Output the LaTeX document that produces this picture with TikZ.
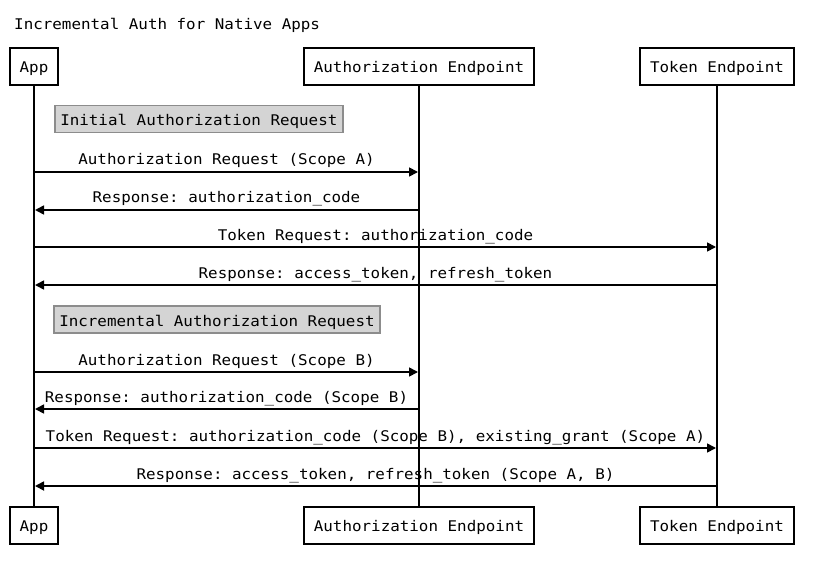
\documentclass[tikz,border=0pt]{standalone}
\usepackage{fontspec}
\usetikzlibrary{arrows.meta}
\newfontfamily\dmono[FakeStretch=1.08]{DejaVu Sans Mono}
\newcommand{\dfont}{\dmono\fontsize{14.7pt}{17pt}\selectfont\frenchspacing}
\tikzset{
  every node/.style={font=\dfont, text=black},
  actor/.style={draw=black, line width=2pt, minimum height=37pt, inner xsep=10pt, inner ysep=0pt, text height=12pt, text depth=0pt},
  notebox/.style={draw=black!45, fill=black!17, line width=1.5pt, minimum height=27pt, inner xsep=5.5pt, inner ysep=0pt, text height=13.5pt, text depth=0pt, anchor=west},
  life/.style={line width=2pt, draw=black},
  msg/.style={line width=1.7pt, -{Triangle[length=9pt,width=9pt]}, shorten >=1pt},
  lbl/.style={anchor=base, inner sep=0pt},
}
\begin{document}
\begin{tikzpicture}[x=1pt, y=-1pt]
\useasboundingbox (0,0) rectangle (824,564);
\node[anchor=base west, inner sep=0pt] (title) at (14,30) {Incremental Auth for Native Apps};
% participants
\node[actor] (app)  at (34,67)  {App};
\node[actor] (auth) at (419,67) {Authorization Endpoint};
\node[actor] (tok)  at (717,67) {Token Endpoint};
\node[actor] (appB)  at (34,525)  {App};
\node[actor] (authB) at (419,525) {Authorization Endpoint};
\node[actor] (tokB)  at (717,525) {Token Endpoint};
% lifelines
\draw[life] (app.south) -- (appB.north);
\draw[life] (auth.south) -- (authB.north);
\draw[life] (tok.south) -- (tokB.north);
% notes
\node[notebox] (n1) at (54,119) {Initial Authorization Request};
\node[notebox] (n2) at (53,319.5) {Incremental Authorization Request};
% messages
\draw[msg] (app |- 0,172) -- (auth |- 0,172);
\node[lbl] (l1) at (226.5,165) {Authorization Request (Scope A)};
\draw[msg] (auth |- 0,210) -- (app |- 0,210);
\node[lbl] (l2) at (226.5,203) {Response: authorization\_code};
\draw[msg] (app |- 0,247) -- (tok |- 0,247);
\node[lbl] (l3) at (375.5,240) {Token Request: authorization\_code};
\draw[msg] (tok |- 0,285) -- (app |- 0,285);
\node[lbl] (l4) at (375.5,278) {Response: access\_token, refresh\_token};
\draw[msg] (app |- 0,372) -- (auth |- 0,372);
\node[lbl] (l5) at (226.5,365) {Authorization Request (Scope B)};
\draw[msg] (auth |- 0,409) -- (app |- 0,409);
\node[lbl] (l6) at (226.5,402) {Response: authorization\_code (Scope B)};
\draw[msg] (app |- 0,448) -- (tok |- 0,448);
\node[lbl] (l7) at (375.5,441) {Token Request: authorization\_code (Scope B), existing\_grant (Scope A)};
\draw[msg] (tok |- 0,486) -- (app |- 0,486);
\node[lbl] (l8) at (375.5,479) {Response: access\_token, refresh\_token (Scope A, B)};
\end{tikzpicture}
\end{document}
